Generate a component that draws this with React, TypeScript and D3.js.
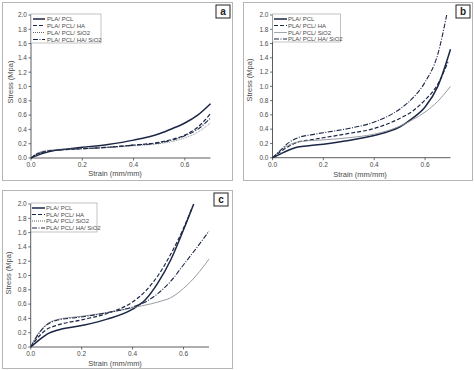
import React from "react";
import * as d3 from "d3";

type Pt = [number, number];

const seriesNames = ["PLA/ PCL", "PLA/ PCL/ HA", "PLA/ PCL/ SiO2", "PLA/ PCL/ HA/ SiO2"];
const xTicks = [0, 0.2, 0.4, 0.6];
const yTicks = [0, 0.2, 0.4, 0.6, 0.8, 1.0, 1.2, 1.4, 1.6, 1.8, 2.0];

const aPCL: Pt[] = [[0,0],[0.02,0.03],[0.05,0.07],[0.1,0.11],[0.15,0.13],[0.2,0.15],[0.3,0.19],[0.4,0.25],[0.5,0.34],[0.55,0.41],[0.6,0.49],[0.65,0.6],[0.7,0.76]];
const aHA: Pt[] = [[0,0],[0.02,0.05],[0.05,0.09],[0.1,0.11],[0.15,0.12],[0.2,0.13],[0.3,0.15],[0.4,0.18],[0.5,0.22],[0.55,0.26],[0.6,0.32],[0.65,0.43],[0.7,0.62]];
const aSiO2: Pt[] = [[0,0],[0.02,0.06],[0.05,0.1],[0.1,0.12],[0.2,0.13],[0.3,0.145],[0.4,0.17],[0.5,0.2],[0.55,0.23],[0.6,0.28],[0.65,0.36],[0.7,0.49]];
const aHASiO2: Pt[] = [[0,0],[0.02,0.05],[0.05,0.08],[0.1,0.11],[0.2,0.13],[0.3,0.15],[0.4,0.18],[0.5,0.21],[0.55,0.25],[0.6,0.31],[0.65,0.4],[0.7,0.56]];

const bPCL: Pt[] = [[0,0],[0.03,0.05],[0.06,0.1],[0.1,0.15],[0.15,0.17],[0.2,0.19],[0.3,0.24],[0.4,0.31],[0.45,0.36],[0.5,0.43],[0.55,0.55],[0.6,0.71],[0.65,1.0],[0.7,1.52]];
const bHA: Pt[] = [[0,0],[0.03,0.08],[0.06,0.15],[0.1,0.22],[0.15,0.25],[0.2,0.28],[0.3,0.34],[0.4,0.41],[0.5,0.55],[0.55,0.65],[0.6,0.81],[0.65,1.03],[0.69,1.34]];
const bSiO2: Pt[] = [[0,0],[0.03,0.1],[0.06,0.17],[0.1,0.22],[0.15,0.24],[0.2,0.25],[0.3,0.28],[0.4,0.33],[0.5,0.44],[0.55,0.53],[0.6,0.64],[0.65,0.79],[0.7,1.0]];
const bHASiO2: Pt[] = [[0,0],[0.03,0.1],[0.06,0.2],[0.1,0.28],[0.15,0.32],[0.2,0.35],[0.3,0.41],[0.4,0.5],[0.5,0.68],[0.55,0.83],[0.6,1.06],[0.65,1.45],[0.685,2.0]];

const cPCL: Pt[] = [[0,0],[0.03,0.09],[0.07,0.19],[0.1,0.23],[0.2,0.3],[0.3,0.39],[0.4,0.53],[0.45,0.66],[0.5,0.9],[0.55,1.22],[0.6,1.64],[0.64,2.0]];
const cHA: Pt[] = [[0,0],[0.03,0.14],[0.06,0.24],[0.1,0.3],[0.2,0.38],[0.3,0.47],[0.4,0.63],[0.45,0.78],[0.5,1.0],[0.55,1.3],[0.6,1.66],[0.635,1.96]];
const cSiO2: Pt[] = [[0,0],[0.03,0.19],[0.06,0.31],[0.1,0.38],[0.2,0.43],[0.3,0.48],[0.4,0.55],[0.5,0.63],[0.55,0.69],[0.6,0.82],[0.65,1.0],[0.7,1.23]];
const cHASiO2: Pt[] = [[0,0],[0.03,0.18],[0.06,0.3],[0.1,0.37],[0.2,0.42],[0.3,0.48],[0.4,0.56],[0.45,0.63],[0.5,0.75],[0.55,0.92],[0.6,1.15],[0.65,1.38],[0.7,1.62]];

const NAVY = "#1c2746";
const GRAY = "#8a8f99";
const TXT = "#4a4a4a";

interface PanelCfg {
  letter: string;
  fx: number; fy: number; fw: number; fh: number;
  x0: number; x1: number; y0: number; y1: number;
  data: Pt[][];
  legend: { x: number; y: number; w: number; h: number; lineX0: number; lineX1: number; textX: number; rows: number[] };
  sioDotted: boolean;
  ylabX: number; ylabY: number;
  xlabX: number; xlabY: number;
  box: { x: number; y: number };
}

const panels: PanelCfg[] = [
  {
    letter: "a", fx: 2.5, fy: 2.5, fw: 230, fh: 178,
    x0: 31, x1: 210.5, y0: 158, y1: 15,
    data: [aPCL, aHA, aSiO2, aHASiO2],
    legend: { x: 31, y: 14, w: 70, h: 29, lineX0: 33, lineX1: 45, textX: 47, rows: [19, 25.5, 32.5, 39.5] },
    sioDotted: true,
    ylabX: 10, ylabY: 82, xlabX: 115, xlabY: 176,
    box: { x: 216, y: 5 },
  },
  {
    letter: "b", fx: 243.5, fy: 2.5, fw: 229, fh: 178,
    x0: 272.5, x1: 450.5, y0: 157.7, y1: 15,
    data: [bPCL, bHA, bSiO2, bHASiO2],
    legend: { x: 272.5, y: 14, w: 68, h: 28, lineX0: 274, lineX1: 287, textX: 288, rows: [19, 25.5, 32.5, 39] },
    sioDotted: false,
    ylabX: 249, ylabY: 80, xlabX: 360, xlabY: 177,
    box: { x: 456, y: 5 },
  },
  {
    letter: "c", fx: 2.5, fy: 190.5, fw: 230, fh: 178,
    x0: 30.7, x1: 209, y0: 347, y1: 204,
    data: [cPCL, cHA, cSiO2, cHASiO2],
    legend: { x: 31, y: 203, w: 66, h: 29, lineX0: 32, lineX1: 45, textX: 46, rows: [208, 214.5, 221, 228] },
    sioDotted: true,
    ylabX: 8, ylabY: 273, xlabX: 115, xlabY: 366,
    box: { x: 214, y: 193 },
  },
];

const styleFor = (i: number, dotted: boolean, legend: boolean) => {
  if (i === 0) return { stroke: NAVY, strokeWidth: 1.5, dash: undefined as string | undefined };
  if (i === 1) return { stroke: NAVY, strokeWidth: 1.2, dash: "4,2" };
  if (i === 2) return dotted || legend
    ? { stroke: dotted ? "#555" : GRAY, strokeWidth: dotted ? 0.9 : 0.8, dash: dotted ? "1,1" : undefined }
    : { stroke: GRAY, strokeWidth: 0.9, dash: undefined };
  return { stroke: NAVY, strokeWidth: 1.1, dash: "5,1.5,1,1.5" };
};

const Panel: React.FC<{ p: PanelCfg }> = ({ p }) => {
  const x = d3.scaleLinear().domain([0, 0.7]).range([p.x0, p.x1]);
  const y = d3.scaleLinear().domain([0, 2]).range([p.y0, p.y1]);
  const line = d3.line<Pt>().x(d => x(d[0])).y(d => y(d[1])).curve(d3.curveMonotoneX);
  const fmt = d3.format(".1f");
  const font = "Liberation Sans, Arial, sans-serif";
  return (
    <g>
      <rect x={p.fx} y={p.fy} width={p.fw} height={p.fh} fill="#fff" stroke="#b5b5b5" strokeWidth={1} />
      {/* curves */}
      {p.data.map((d, i) => {
        const s = styleFor(i, p.sioDotted && false, false);
        const st = i === 2 ? { stroke: GRAY, strokeWidth: 0.9, dash: p.sioDotted && p.letter === "a" ? "1,0.8" : undefined } : s;
        return (
          <path key={i} d={line(d) || ""} fill="none" stroke={st.stroke} strokeWidth={st.strokeWidth}
            strokeDasharray={st.dash} />
        );
      })}
      {/* axes */}
      <line x1={p.x0} x2={p.x1} y1={p.y0} y2={p.y0} stroke="#333" strokeWidth={0.8} />
      <line x1={p.x0} x2={p.x0} y1={p.y0} y2={p.y1} stroke="#333" strokeWidth={0.8} />
      {xTicks.map(t => (
        <g key={"x" + t}>
          <line x1={x(t)} x2={x(t)} y1={p.y0} y2={p.y0 + 2.5} stroke="#333" strokeWidth={0.7} />
          <text x={x(t)} y={p.y0 + 9} fontSize={6.5} fontFamily={font} fill={TXT} textAnchor="middle">{fmt(t)}</text>
        </g>
      ))}
      {yTicks.map(t => (
        <g key={"y" + t}>
          <line x1={p.x0 - 2.5} x2={p.x0} y1={y(t)} y2={y(t)} stroke="#333" strokeWidth={0.7} />
          <text x={p.x0 - 4} y={y(t) + 2.3} fontSize={6.5} fontFamily={font} fill={TXT} textAnchor="end">{fmt(t)}</text>
        </g>
      ))}
      <text x={p.xlabX} y={p.xlabY} fontSize={7.5} fontFamily={font} fill={TXT} textAnchor="middle">Strain (mm/mm)</text>
      <text transform={`translate(${p.ylabX + 2.5},${p.ylabY}) rotate(-90)`} fontSize={7.5} fontFamily={font} fill={TXT} textAnchor="middle">Stress (Mpa)</text>
      {/* legend */}
      <rect x={p.legend.x} y={p.legend.y} width={p.legend.w} height={p.legend.h} fill="#fff" stroke="#999" strokeWidth={0.6} />
      {seriesNames.map((n, i) => {
        const s = styleFor(i, p.sioDotted, true);
        const ry = p.legend.rows[i];
        return (
          <g key={n}>
            <line x1={p.legend.lineX0} x2={p.legend.lineX1} y1={ry} y2={ry} stroke={s.stroke} strokeWidth={s.strokeWidth}
              strokeDasharray={s.dash} />
            <text x={p.legend.textX} y={ry + 2} fontSize={6} fontFamily={font} fill={TXT}>{n}</text>
          </g>
        );
      })}
      {/* panel letter */}
      <rect x={p.box.x} y={p.box.y} width={14} height={13} fill="#fff" stroke="#222" strokeWidth={1} />
      <text x={p.box.x + 7} y={p.box.y + 10} fontSize={10} fontWeight="bold" fontFamily={font} fill="#222" textAnchor="middle">{p.letter}</text>
    </g>
  );
};

export default function App() {
  return (
    <svg width={474} height={370} style={{ position: "absolute", left: 0, top: 0, background: "#fff" }}>
      {panels.map(p => <Panel key={p.letter} p={p} />)}
    </svg>
  );
}
